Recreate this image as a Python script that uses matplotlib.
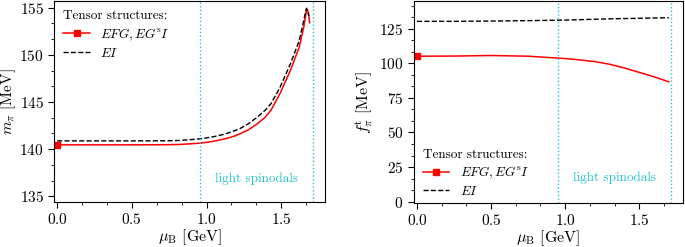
import numpy as np
import matplotlib
matplotlib.use('Agg')
import matplotlib.pyplot as plt
from matplotlib.ticker import AutoMinorLocator, MultipleLocator

plt.rcParams['font.family'] = 'serif'
plt.rcParams['font.serif'] = ['cmr10']
plt.rcParams['mathtext.fontset'] = 'cm'
plt.rcParams['axes.formatter.use_mathtext'] = True
plt.rcParams['font.size'] = 11.5

# left panel: pion mass
mu_m_efg = [0.0, 0.25, 0.5, 0.72, 0.82, 0.96, 1.04, 1.11, 1.17, 1.22, 1.28, 1.34, 1.39, 1.43, 1.49, 1.56, 1.62, 1.65, 1.668, 1.674, 1.682, 1.69]
m_efg = [140.46, 140.46, 140.46, 140.47, 140.5, 140.64, 140.82, 141.05, 141.3, 141.6, 142.05, 142.7, 143.35, 144.1, 145.85, 148.3, 150.8, 152.9, 154.65, 154.8, 154.4, 153.4]
mu_m_ei = [0.0, 0.25, 0.5, 0.72, 0.82, 0.96, 1.04, 1.11, 1.17, 1.22, 1.28, 1.34, 1.39, 1.43, 1.49, 1.56, 1.62, 1.65, 1.668, 1.678, 1.684]
m_ei = [140.88, 140.88, 140.88, 140.89, 140.92, 141.1, 141.3, 141.55, 141.85, 142.15, 142.7, 143.4, 144.1, 144.8, 146.5, 149.0, 151.5, 153.6, 154.93, 154.6, 154.1]

# right panel: pion decay constant
mu_f = [0.0, 0.25, 0.5, 0.75, 1.0, 1.1, 1.2, 1.3, 1.4, 1.5, 1.6, 1.7]
f_efg = [105.1, 105.2, 105.6, 105.1, 103.4, 102.4, 101.2, 99.3, 96.6, 93.4, 90.2, 86.6]
f_ei = [130.3, 130.3, 130.5, 130.8, 131.2, 131.5, 131.8, 132.1, 132.3, 132.5, 132.7, 132.9]

spinodals = [0.955, 1.712]
cyan = '#22c4cc'

fig = plt.figure(figsize=(6.85, 2.47), dpi=100)
ax1 = fig.add_axes([0.079, 0.182, 0.396, 0.814])
ax2 = fig.add_axes([0.604, 0.178, 0.393, 0.818])

ax1.plot(mu_m_efg, m_efg, color='red', lw=1.1, marker='s', ms=5, markevery=[0],
         label=r'$EFG, EG^{\rm s}I$')
ax1.plot(mu_m_ei, m_ei, color='black', ls='--', lw=1.0, label=r'$EI$')
ax1.set_xlim(-0.02, 1.795)
ax1.set_ylim(134.4, 155.7)
ax1.yaxis.set_major_locator(MultipleLocator(5))
ax1.set_ylabel(r'$m_\pi$ [MeV]', fontsize=11)
ax1.yaxis.set_label_coords(-0.132, 0.5)
ax1.text(1.333, 136.9, 'light spinodals', color=cyan, ha='center', va='center', fontsize=9.5)
ax1.legend(loc='upper left', title='Tensor structures:', frameon=False, fontsize=9.5,
           title_fontsize=9.5, handlelength=2.0, borderaxespad=0.3, labelspacing=0.3)

ax2.plot(mu_f, f_efg, color='red', lw=1.1, marker='s', ms=5, markevery=[0],
         label=r'$EFG, EG^{\rm s}I$')
ax2.plot(mu_f, f_ei, color='black', ls='--', lw=1.0, label=r'$EI$')
ax2.set_xlim(-0.022, 1.795)
ax2.set_ylim(-1, 145)
ax2.yaxis.set_major_locator(MultipleLocator(25))
ax2.set_ylabel(r'$f_\pi^{\rm t}$ [MeV]', labelpad=3)
ax2.text(1.333, 17.2, 'light spinodals', color=cyan, ha='center', va='center', fontsize=9.5)
ax2.legend(loc='lower left', bbox_to_anchor=(0.0, -0.02), title='Tensor structures:',
           frameon=False, fontsize=9.5, title_fontsize=9.5, handlelength=2.0,
           borderaxespad=0.3, labelspacing=0.3)

for ax in (ax1, ax2):
    for x in spinodals:
        ax.axvline(x, color=cyan, ls=':', lw=1.0)
    ax.xaxis.set_major_locator(MultipleLocator(0.5))
    ax.xaxis.set_minor_locator(AutoMinorLocator(3))
    ax.yaxis.set_minor_locator(AutoMinorLocator(3))
    ax.set_xlabel(r'$\mu_{\rm B}$ [GeV]', labelpad=0)
    ax.tick_params(which='both', direction='out', labelsize=11)
    ax.tick_params(which='major', length=4)
    ax.tick_params(which='minor', length=2)
    ax.get_legend()._legend_box.align = 'left'

fig.savefig('out.png', dpi=100)
